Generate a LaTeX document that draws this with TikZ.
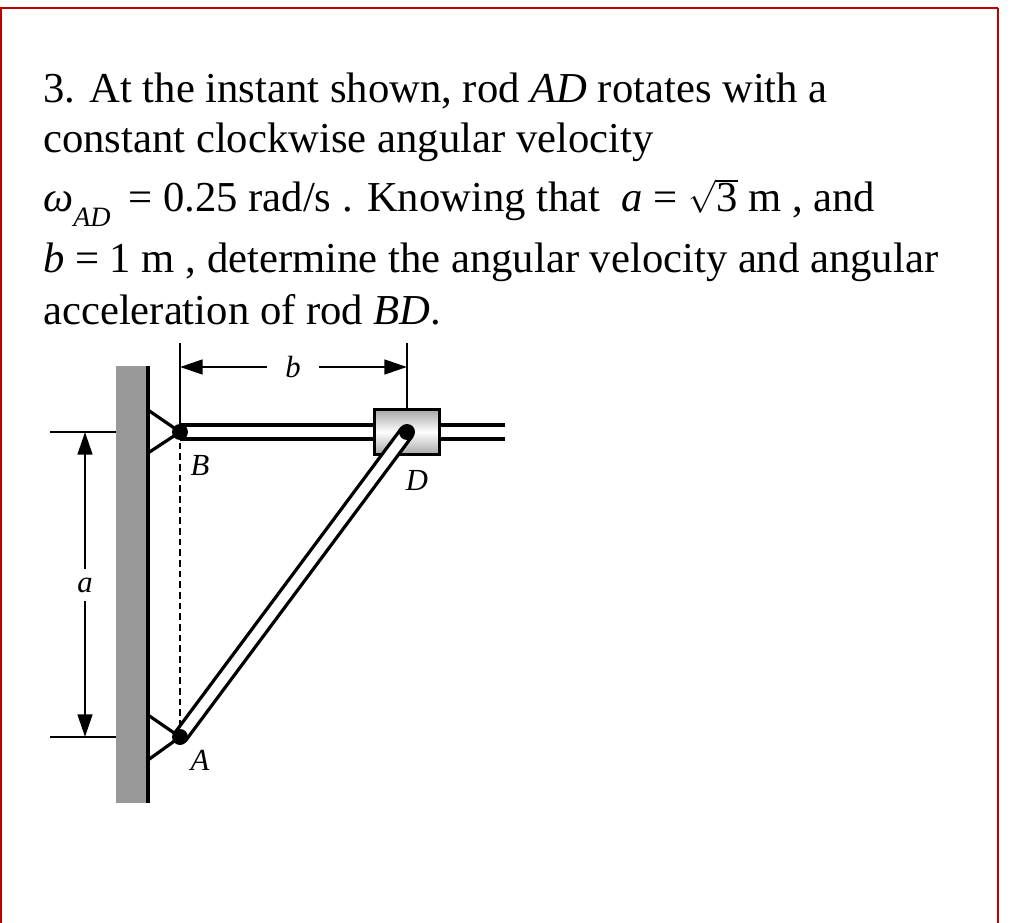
\documentclass[tikz,border=0pt]{standalone}
\usepackage{fontspec}
\setmainfont{Liberation Serif}
\usetikzlibrary{arrows.meta,calc}
\begin{document}
\begin{tikzpicture}[x=0.75pt,y=-0.75pt,
  txt/.style={anchor=base west,inner sep=0pt,font=\fontsize{32}{36}\selectfont},
  lbl/.style={inner sep=0pt,font=\fontsize{23}{26}\selectfont\itshape},
  ln/.style={line width=2.4pt},
  dim/.style={line width=2pt,-{Triangle[length=17pt,width=11pt]}}]
\useasboundingbox (0,0) rectangle (1014,923);
\draw[red!75!black,line width=2.2pt] (0,8) -- (998,8) (998,8) -- (998,923) (1,8) -- (1,923);
% text
\node[txt] (t1) at (43,103) {3. At the instant shown, rod \textit{AD} rotates with a};
\node[txt] (t2) at (43,153) {constant clockwise angular velocity};
\node[txt] (t3) at (43,212) {\textit{ω}\raisebox{-0.35em}{\fontsize{21}{24}\selectfont\textit{AD}} \,= 0.25 rad/s . Knowing that \ \textit{a} = $\sqrt{\hbox{3}}$ m , and};
\node[txt] (t4) at (43,273) {\textit{b} = 1 m , determine the angular velocity and angular};
\node[txt] (t5) at (43,325) {acceleration of rod \textit{BD}.};
% wall
\fill[gray!80] (116,366) rectangle (147,803);
\draw[ln] (148,366) -- (148,803);
\coordinate (B) at (180,432);
\coordinate (A) at (180,737);
\coordinate (D) at (407,432);
% supports
\draw[ln] (148,410) -- (B) -- (148,453);
\draw[ln] (148,715) -- (A) -- (148,760);
% horizontal rod
\draw[ln] (180,425) -- (505,425);
\draw[ln] (180,439) -- (505,439);
% collar
\node[draw,line width=2.4pt,minimum width=49pt,minimum height=34pt,inner sep=0pt,
  left color=gray!70,right color=gray!70,middle color=white,shading angle=0] (col) at (407,432) {};
% diagonal rod
\coordinate (A1) at ($(A)!5pt!90:(D)$);
\coordinate (A2) at ($(A)!-5pt!90:(D)$);
\coordinate (D1) at ($(D)!5pt!-90:(A)$);
\coordinate (D2) at ($(D)!-5pt!-90:(A)$);
\fill[white] (A1) -- (D1) -- (D2) -- (A2) -- cycle;
\draw[ln] (A1) -- (D1);
\draw[ln] (A2) -- (D2);
\fill (D) circle (6pt);
\fill (B) circle (6pt);
\fill (A) circle (6pt);
% dashed
\draw[line width=1.5pt,dash pattern=on 5pt off 3pt] (B) -- (A);
\node[lbl] (lB) at (200,466) {B};
\node[lbl] (lD) at (417,480) {D};
\node[lbl] (lA) at (200,760) {A};
% dim a
\draw[line width=2pt] (50,432) -- (116,432) (50,737) -- (116,737);
\node[lbl] (la) at (85,585) {a};
\coordinate (a1) at (85,432); \coordinate (a2) at (85,737);
\draw[dim] (la.north) ++(0,-8) -- (a1);
\draw[dim] (la.south) ++(0,8) -- (a2);
% dim b
\draw[line width=2pt] (180,343) -- (180,432) (407,343) -- (407,409);
\node[lbl] (lb) at (293,367) {b};
\coordinate (b1) at (180,367); \coordinate (b2) at (407,367);
\draw[dim] (lb.west) ++(-18,0) -- (b1);
\draw[dim] (lb.east) ++(18,0) -- (b2);
\end{tikzpicture}
\end{document}
